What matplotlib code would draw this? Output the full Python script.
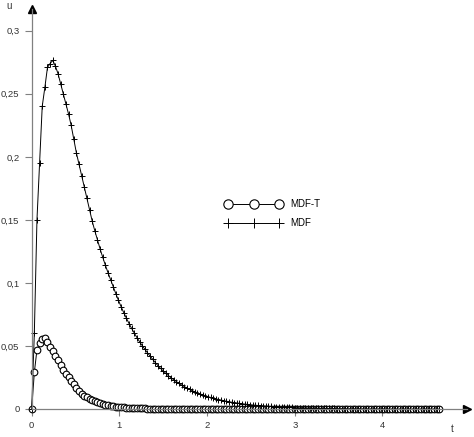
import matplotlib
matplotlib.use('Agg')
import matplotlib.pyplot as plt
import numpy as np

# passo de tempo das amostras
dt = 0.03

# MDF (cruzes)
mdf = [
    0.0, 0.060, 0.150, 0.195, 0.240, 0.255, 0.271, 0.274, 0.2765, 0.272,
    0.266, 0.258, 0.250, 0.242, 0.234, 0.225, 0.214, 0.203, 0.194, 0.185,
    0.176, 0.167, 0.158, 0.149, 0.1413, 0.134, 0.127, 0.1204, 0.1141, 0.1082,
    0.1026, 0.097, 0.0914, 0.0861, 0.0811, 0.0764, 0.072, 0.0678, 0.0639, 0.0602,
    0.0567, 0.0534, 0.0503, 0.0474, 0.0446, 0.042, 0.0393, 0.0368, 0.0344, 0.0322,
    0.0302, 0.0282, 0.0264, 0.0247, 0.0232, 0.0217, 0.0203, 0.019, 0.0178, 0.0166,
    0.0156, 0.0146, 0.0137, 0.0128, 0.012, 0.0112, 0.0105, 0.0098, 0.0092, 0.0086,
    0.0081, 0.0075, 0.0071, 0.0066, 0.0062, 0.0058, 0.0054, 0.0051, 0.0048, 0.0045,
    0.0042, 0.0039, 0.0037, 0.0034, 0.0032, 0.0030, 0.0028, 0.0026, 0.0025, 0.0023,
    0.0021, 0.0020, 0.0019, 0.0018, 0.0016, 0.0015, 0.0014, 0.0013, 0.0012, 0.0012,
    0.0011, 0.0010, 0.0009, 0.0009, 0.0008, 0.0008, 0.0007, 0.0007, 0.0006, 0.0006,
    0.0005, 0.0005, 0.0005, 0.0004, 0.0004, 0.0004, 0.0003, 0.0003, 0.0003, 0.0003,
    0.0002, 0.0002, 0.0002, 0.0002, 0.0002, 0.0002, 0.0001, 0.0001, 0.0001, 0.0001,
    0.0001, 0.0001, 0.0001, 0.0001, 0.0001, 0.0001, 0.0, 0.0, 0.0, 0.0,
    0.0, 0.0, 0.0, 0.0, 0.0, 0.0, 0.0, 0.0, 0.0, 0.0,
    0.0, 0.0, 0.0, 0.0, 0.0, 0.0]

# MDF-T (circulos)
mdf_t = [
    0.0, 0.029, 0.047, 0.0525, 0.0553, 0.056, 0.053, 0.0495, 0.046, 0.042,
    0.0385, 0.0345, 0.031, 0.0277, 0.025, 0.0222, 0.0195, 0.0168, 0.0143, 0.0122,
    0.0106, 0.0092, 0.008, 0.0069, 0.006, 0.0052, 0.0045, 0.0039, 0.0034, 0.0029,
    0.0025, 0.0022, 0.0019, 0.0016, 0.0014, 0.0012, 0.001, 0.0009, 0.0008, 0.0007,
    0.0006, 0.0005, 0.0004, 0.0004, 0.0003, 0.0003, 0.0002, 0.0002, 0.0002, 0.0001,
    0.0001, 0.0001, 0.0001, 0.0001, 0.0001, 0.0, 0.0, 0.0, 0.0, 0.0,
    0.0, 0.0, 0.0, 0.0, 0.0, 0.0, 0.0, 0.0, 0.0, 0.0,
    0.0, 0.0, 0.0, 0.0, 0.0, 0.0, 0.0, 0.0, 0.0, 0.0,
    0.0, 0.0, 0.0, 0.0, 0.0, 0.0, 0.0, 0.0, 0.0, 0.0,
    0.0, 0.0, 0.0, 0.0, 0.0, 0.0, 0.0, 0.0, 0.0, 0.0,
    0.0, 0.0, 0.0, 0.0, 0.0, 0.0, 0.0, 0.0, 0.0, 0.0,
    0.0, 0.0, 0.0, 0.0, 0.0, 0.0, 0.0, 0.0, 0.0, 0.0,
    0.0, 0.0, 0.0, 0.0, 0.0, 0.0, 0.0, 0.0, 0.0, 0.0,
    0.0, 0.0, 0.0, 0.0, 0.0, 0.0, 0.0, 0.0, 0.0, 0.0,
    0.0, 0.0, 0.0, 0.0, 0.0, 0.0, 0.0, 0.0, 0.0, 0.0,
    0.0, 0.0, 0.0, 0.0, 0.0, 0.0]

t = dt * np.arange(len(mdf))

xticks = [0, 1, 2, 3, 4]
xlabels = ['0', '1', '2', '3', '4']
yticks = [0, 0.05, 0.1, 0.15, 0.2, 0.25, 0.3]
ylabels = ['0', '0,05', '0,1', '0,15', '0,2', '0,25', '0,3']

plt.rcParams['font.family'] = ['Liberation Sans', 'DejaVu Sans']

W, H = 474, 437
fig = plt.figure(figsize=(W / 100, H / 100), dpi=100)
ax = fig.add_axes([31.7 / W, 28 / H, (467 - 31.7) / W, 399.7 / H])

ax.plot(t, mdf_t, color='black', lw=0.7, marker='o', ms=4.8, mfc='white',
        mec='black', mew=0.8, label='MDF-T', clip_on=False)
ax.plot(t, mdf, color='black', lw=0.7, marker='+', ms=4.8, mew=0.7,
        label='MDF', clip_on=False)

ax.set_xlim(0, 4.965)
ax.set_ylim(0, 0.317)

for s in ['top', 'right']:
    ax.spines[s].set_visible(False)
for s in ['left', 'bottom']:
    ax.spines[s].set_color('#808080')
    ax.spines[s].set_linewidth(0.9)

ax.set_xticks(xticks)
ax.set_xticklabels(xlabels)
ax.set_yticks(yticks)
ax.set_yticklabels(ylabels)
ax.tick_params(direction='out', length=4.8, width=0.8, color='#808080',
               labelsize=6.8, labelcolor='#333333', pad=4)

# setas dos eixos
ax.plot(1, 0, '>', color='black', ms=6, transform=ax.get_yaxis_transform(), clip_on=False)
ax.plot(0, 1, '^', color='black', ms=6, transform=ax.get_xaxis_transform(), clip_on=False)

fig.text(9.3 / W, 1 - 6 / H, 'u', fontsize=7, color='#333333', ha='center', va='center')
fig.text(452.7 / W, 1 - 429 / H, 't', fontsize=7, color='#333333', ha='center', va='center')

ax.legend(loc='upper left', bbox_to_anchor=(225 / W, 1 - 199 / H),
          bbox_transform=fig.transFigure, frameon=False, numpoints=3,
          handlelength=5.9, fontsize=7, borderpad=0, borderaxespad=0,
          handletextpad=0.8, labelspacing=0.95, markerscale=1.4)

fig.savefig('out.png', dpi=100)
